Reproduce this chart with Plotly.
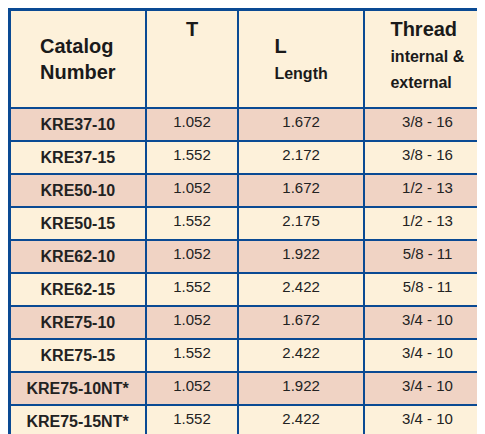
import plotly.graph_objects as go

catalog = ["KRE37-10", "KRE37-15", "KRE50-10", "KRE50-15", "KRE62-10",
           "KRE62-15", "KRE75-10", "KRE75-15", "KRE75-10NT*", "KRE75-15NT*"]
t_vals = ["1.052", "1.552", "1.052", "1.552", "1.052",
          "1.552", "1.052", "1.552", "1.052", "1.552"]
l_vals = ["1.672", "2.172", "1.672", "2.175", "1.922",
          "2.422", "1.672", "2.422", "1.922", "2.422"]
thread = ["3/8 - 16", "3/8 - 16", "1/2 - 13", "1/2 - 13", "5/8 - 11",
          "5/8 - 11", "3/4 - 10", "3/4 - 10", "3/4 - 10", "3/4 - 10"]

spacer = "<span style='font-size:10px'> </span><br>"
headers = [
    spacer + "<b>Catalog<br>Number</b>",
    "<br><b>T</b>",
    spacer + "<b>L</b><br><span style='font-size:16px'><b>Length</b></span>",
    "<b>Thread</b><br><span style='font-size:16px'><b>internal &<br>external</b></span>",
]

BLUE = "#0a4a93"
CREAM = "#fdf1da"
PINK = "#f0d3c4"
row_colors = [PINK if i % 2 == 0 else CREAM for i in range(len(catalog))]

fig = go.Figure(go.Table(
    columnwidth=[137, 93, 127, 128],
    header=dict(
        values=headers,
        fill=dict(color=CREAM),
        line=dict(color=BLUE, width=2),
        align="center",
        height=98,
        font=dict(family="Liberation Sans, Arial", size=20, color="#1a1a1a"),
    ),
    cells=dict(
        values=[["<b>%s</b>" % c for c in catalog], t_vals, l_vals, thread],
        fill=dict(color=[row_colors, row_colors, row_colors, row_colors]),
        line=dict(color=BLUE, width=2),
        align="center",
        height=30,
        font=dict(family="Liberation Sans, Arial", size=[16, 15, 15, 15], color="#222222"),
    ),
))

fig.update_layout(
    width=485, height=434,
    margin=dict(l=2, r=2, t=2, b=0),
    paper_bgcolor=BLUE,
)

fig.write_html("out.html")
